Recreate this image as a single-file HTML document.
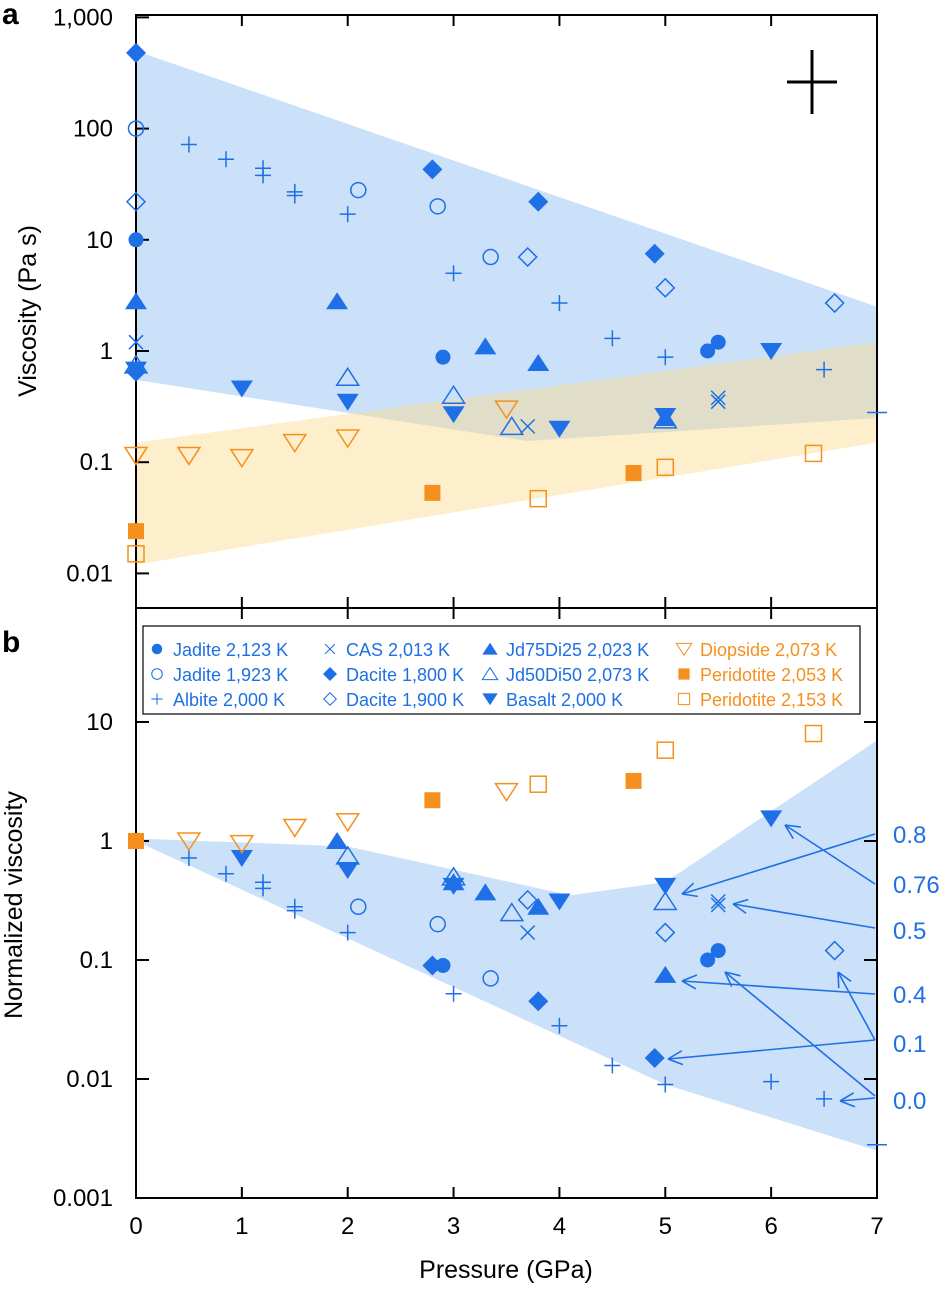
<!DOCTYPE html>
<html><head><meta charset="utf-8"><style>
body{margin:0;background:#fff}
svg text{font-family:"Liberation Sans",sans-serif}
</style></head><body>
<svg id="chart" width="946" height="1286" xmlns="http://www.w3.org/2000/svg">
<g id="bands"></g><g id="axes"></g><g id="marks"></g><g id="extra"></g>
</svg>
<script>
const xTicks=[0,1,2,3,4,5,6,7];
const aTicks=[1000,100,10,1,0.1,0.01];
const aTickLabels=["1,000","100","10","1","0.1","0.01"];
const bTicks=[10,1,0.1,0.01,0.001];
const bTickLabels=["10","1","0.1","0.01","0.001"];
// panel a series [pressure, viscosity]
const aJadite2123=[[0,10],[2.9,0.88],[5.4,1.0],[5.5,1.2]];
const aJadite1923=[[0,100],[2.1,28],[2.85,20],[3.35,7]];
const aAlbite=[[0,0.7],[0.5,72],[0.85,53],[1.2,38],[1.2,44],[1.5,25],[1.5,27],[2,17],[3,5],[4,2.7],[4.5,1.3],[5,0.88],[6.5,0.68]];
const aCAS=[[0,1.2],[3.7,0.21],[5.5,0.35],[5.5,0.38]];
const aDacite1800=[[0,480],[2.8,43],[3.8,22],[4.9,7.5],[0,0.65]];
const aDacite1900=[[0,22],[3.7,7],[5,3.7],[6.6,2.7]];
const aJd75=[[0,2.8],[1.9,2.8],[3.3,1.1],[3.8,0.78],[5,0.25]];
const aJd50=[[0,0.75],[2,0.58],[3,0.4],[3.55,0.21],[5,0.24]];
const aBasalt=[[0,0.68],[1,0.46],[2,0.35],[3,0.27],[4,0.2],[5,0.26],[6,1.0]];
const aDiopside=[[0,0.115],[0.5,0.115],[1,0.11],[1.5,0.15],[2,0.165],[3.5,0.3]];
const aPerid2053=[[0,0.024],[2.8,0.053],[4.7,0.08]];
const aPerid2153=[[0,0.015],[3.8,0.047],[5,0.09],[6.4,0.12]];
const aBlueBand=[[0,500],[7,2.5],[7,0.25],[3.7,0.155],[0,0.55]];
const aOrangeBand=[[0,0.15],[7,1.2],[7,0.15],[0,0.012]];
// panel b normalized
const bJadite2123=[[0,1],[2.9,0.09],[5.4,0.1],[5.5,0.12]];
const bJadite1923=[[2.1,0.28],[2.85,0.2],[3.35,0.07]];
const bAlbite=[[0,1],[0.5,0.72],[0.85,0.53],[1.2,0.4],[1.2,0.45],[1.5,0.26],[1.5,0.28],[2,0.17],[3,0.052],[4,0.028],[4.5,0.013],[5,0.009],[6,0.0095],[6.5,0.0068]];
const bCAS=[[3.7,0.17],[5.5,0.29],[5.5,0.31]];
const bDacite1800=[[2.8,0.09],[3.8,0.045],[4.9,0.015]];
const bDacite1900=[[3.7,0.32],[5,0.17],[6.6,0.12]];
const bJd75=[[1.9,1.0],[3.3,0.37],[3.8,0.28],[5,0.075],[3,0.45]];
const bJd50=[[2,0.75],[3,0.5],[3.55,0.25],[5,0.31]];
const bBasalt=[[1,0.72],[2,0.57],[3,0.42],[4,0.31],[5,0.42],[6,1.55]];
const bDiopside=[[0.5,1],[1,0.95],[1.5,1.3],[2,1.45],[3.5,2.6]];
const bPerid2053=[[0,1],[2.8,2.2],[4.7,3.2]];
const bPerid2153=[[3.8,3.0],[5,5.8],[6.4,8]];
const bBlueBand=[[0,1.05],[2,0.9],[4.1,0.35],[5,0.45],[7,7],[7,0.0025],[5,0.009],[0,1]];

const NS="http://www.w3.org/2000/svg";
const BLUE="#1f6fe6",OR="#f5901e";
const L=136,R=877;
const X=v=>L+v*(R-L)/7;
const YA=v=>351-111.2*Math.log10(v);
const YB=v=>841-119*Math.log10(v);
function el(t,a,p){const e=document.createElementNS(NS,t);for(const k in a)e.setAttribute(k,a[k]);document.getElementById(p).appendChild(e);return e;}
function poly(pts,Y,fill,op,name){const e=el('polygon',{points:pts.map(p=>X(p[0])+','+Y(p[1])).join(' '),fill:fill,opacity:op},'bands');

}
poly(aBlueBand,YA,'#a9cbf5',0.6,'panel-a-blue-band');
poly(aOrangeBand,YA,'#fbd98f',0.45,'panel-a-orange-band');
poly(bBlueBand,YB,'#a9cbf5',0.6,'panel-b-blue-band');

function marker(type,x,y,c,parent,name){
  const g=el('g',{},parent);
  
  
  const add=(t,a)=>{const n=document.createElementNS(NS,t);for(const k in a)n.setAttribute(k,a[k]);g.appendChild(n);};
  const st={stroke:c,'stroke-width':1.5};
  if(type=='fc')add('circle',{cx:x,cy:y,r:7.5,fill:c});
  if(type=='oc')add('circle',{cx:x,cy:y,r:7.5,fill:'none',...st});
  if(type=='plus'){add('line',{x1:x-8,x2:x+8,y1:y,y2:y,...st});add('line',{x1:x,x2:x,y1:y-8,y2:y+8,...st});}
  if(type=='x'){add('line',{x1:x-7,x2:x+7,y1:y-7,y2:y+7,...st});add('line',{x1:x+7,x2:x-7,y1:y-7,y2:y+7,...st});}
  const dia=`${x},${y-10} ${x+10},${y} ${x},${y+10} ${x-10},${y}`;
  if(type=='fd')add('polygon',{points:dia,fill:c});
  if(type=='od')add('polygon',{points:`${x},${y-9} ${x+9},${y} ${x},${y+9} ${x-9},${y}`,fill:'none',...st});
  const up=`${x},${y-9} ${x+11},${y+8} ${x-11},${y+8}`, dn=`${x},${y+9} ${x+11},${y-8} ${x-11},${y-8}`;
  if(type=='fu')add('polygon',{points:up,fill:c});
  if(type=='ou')add('polygon',{points:up,fill:'none',...st});
  if(type=='fdn')add('polygon',{points:dn,fill:c});
  if(type=='odn')add('polygon',{points:dn,fill:'none',...st});
  if(type=='fs')add('rect',{x:x-8,y:y-8,width:16,height:16,fill:c});
  if(type=='os')add('rect',{x:x-8,y:y-8,width:16,height:16,fill:'none',...st});
}
const seriesA=[[aJadite2123,'fc',BLUE,'jadite-2123'],[aJadite1923,'oc',BLUE,'jadite-1923'],[aAlbite,'plus',BLUE,'albite'],[aCAS,'x',BLUE,'cas'],[aDacite1800,'fd',BLUE,'dacite-1800'],[aDacite1900,'od',BLUE,'dacite-1900'],[aJd75,'fu',BLUE,'jd75di25'],[aJd50,'ou',BLUE,'jd50di50'],[aBasalt,'fdn',BLUE,'basalt'],[aDiopside,'odn',OR,'diopside'],[aPerid2053,'fs',OR,'peridotite-2053'],[aPerid2153,'os',OR,'peridotite-2153']];
const seriesB=[[bJadite2123,'fc',BLUE,'jadite-2123'],[bJadite1923,'oc',BLUE,'jadite-1923'],[bAlbite,'plus',BLUE,'albite'],[bCAS,'x',BLUE,'cas'],[bDacite1800,'fd',BLUE,'dacite-1800'],[bDacite1900,'od',BLUE,'dacite-1900'],[bJd75,'fu',BLUE,'jd75di25'],[bJd50,'ou',BLUE,'jd50di50'],[bBasalt,'fdn',BLUE,'basalt'],[bDiopside,'odn',OR,'diopside'],[bPerid2053,'fs',OR,'peridotite-2053'],[bPerid2153,'os',OR,'peridotite-2153']];
seriesA.forEach(s=>s[0].forEach(p=>marker(s[1],X(p[0]),YA(p[1]),s[2],'marks','a-point-'+s[3])));
seriesB.forEach(s=>s[0].forEach(p=>marker(s[1],X(p[0]),YB(p[1]),s[2],'marks','b-point-'+s[3])));

// axes
const ax=(t,a,name)=>{const e=el(t,a,'axes');return e;};
ax('rect',{x:L,y:15,width:R-L,height:1183,fill:'none',stroke:'#000','stroke-width':2},'plot-frame');
ax('line',{x1:L,x2:R,y1:608,y2:608,stroke:'#000','stroke-width':2},'panel-divider');
xTicks.forEach(t=>{
  [[15,26],[608,597],[608,619],[1198,1187]].forEach(p=>ax('line',{x1:X(t),x2:X(t),y1:p[0],y2:p[1],stroke:'#000','stroke-width':2},'x-tick'));
  const tx=ax('text',{x:X(t),y:1234,'font-size':24,'text-anchor':'middle'},'x-tick-label');tx.textContent=t;
});
aTicks.forEach((t,i)=>{ax('line',{x1:L,x2:L+13,y1:YA(t),y2:YA(t),stroke:'#000','stroke-width':2},'a-y-tick');
  const tx=ax('text',{x:113,y:YA(t)+8,'font-size':24,'text-anchor':'end'},'a-y-tick-label');tx.textContent=aTickLabels[i];});
bTicks.forEach((t,i)=>{ax('line',{x1:L,x2:L+13,y1:YB(t),y2:YB(t),stroke:'#000','stroke-width':2},'b-y-tick');
  ax('line',{x1:R,x2:R-13,y1:YB(t),y2:YB(t),stroke:'#000','stroke-width':2},'b-right-tick');
  const tx=ax('text',{x:113,y:YB(t)+8,'font-size':24,'text-anchor':'end'},'b-y-tick-label');tx.textContent=bTickLabels[i];});
ax('line',{x1:R-10,x2:R+10,y1:YA(0.28),y2:YA(0.28),stroke:BLUE,'stroke-width':1.5},'a-albite-edge');
ax('line',{x1:R-10,x2:R+10,y1:YB(0.0028),y2:YB(0.0028),stroke:BLUE,'stroke-width':1.5},'b-albite-edge');
let t;
t=ax('text',{x:0,y:0,'font-size':25,'text-anchor':'middle',transform:'translate(36,311) rotate(-90)'},'a-y-axis-title');t.textContent='Viscosity (Pa s)';
t=ax('text',{x:0,y:0,'font-size':25,'text-anchor':'middle',transform:'translate(22,905) rotate(-90)'},'b-y-axis-title');t.textContent='Normalized viscosity';
t=ax('text',{x:506,y:1278,'font-size':25,'text-anchor':'middle'},'x-axis-title');t.textContent='Pressure (GPa)';
t=ax('text',{x:2,y:24,'font-size':30,'font-weight':'bold'},'panel-a-label');t.textContent='a';
t=ax('text',{x:2,y:652,'font-size':30,'font-weight':'bold'},'panel-b-label');t.textContent='b';
ax('line',{x1:787,x2:837,y1:82,y2:82,stroke:'#000','stroke-width':3},'error-bar-h');
ax('line',{x1:812,x2:812,y1:50,y2:114,stroke:'#000','stroke-width':3},'error-bar-v');

// legend
ax('rect',{x:143,y:626,width:717,height:88,fill:'#fff',stroke:'#000','stroke-width':1.2},'legend-box');
const legend=[['fc',BLUE,'Jadite 2,123 K',0,0],['oc',BLUE,'Jadite 1,923 K',0,1],['plus',BLUE,'Albite 2,000 K',0,2],
['x',BLUE,'CAS 2,013 K',1,0],['fd',BLUE,'Dacite 1,800 K',1,1],['od',BLUE,'Dacite 1,900 K',1,2],
['fu',BLUE,'Jd75Di25 2,023 K',2,0],['ou',BLUE,'Jd50Di50 2,073 K',2,1],['fdn',BLUE,'Basalt 2,000 K',2,2],
['odn',OR,'Diopside 2,073 K',3,0],['fs',OR,'Peridotite 2,053 K',3,1],['os',OR,'Peridotite 2,153 K',3,2]];
const colX=[157,330,490,684];
legend.forEach(l=>{const x=colX[l[3]],y=649+l[4]*25;
  const g=document.createElementNS(NS,'g');g.setAttribute('transform',`translate(${x},${y}) scale(0.7) translate(${-x},${-y})`);document.getElementById('axes').appendChild(g);g.id='lg'+l[3]+l[4];
  marker(l[0],x,y,l[1],g.id,'legend-marker');
  const tx=ax('text',{x:x+16,y:y+7,'font-size':18,fill:l[1]},'legend-entry');tx.textContent=l[2];});

// right labels and arrows
const rLabels=[['0.8',834],['0.76',884],['0.5',930],['0.4',994],['0.1',1043],['0.0',1100]];
rLabels.forEach(r=>{const tx=el('text',{x:893,y:r[1]+9,'font-size':24,fill:BLUE},'extra');


tx.textContent=r[0];});
const arrows=[[875,834,682,894],[875,884,785,825],[875,928,733,904],[875,994,682,981],[875,1040,838,972],[875,1040,668,1059],[875,1096,725,972],[875,1098,840,1101]];
arrows.forEach(a=>{const g=el('g',{},'extra');
  
  
  const ln=document.createElementNS(NS,'line');[['x1',a[0]],['y1',a[1]],['x2',a[2]],['y2',a[3]],['stroke',BLUE],['stroke-width',1.6]].forEach(k=>ln.setAttribute(k[0],k[1]));g.appendChild(ln);
  const ang=Math.atan2(a[1]-a[3],a[0]-a[2]);
  [0.45,-0.45].forEach(d=>{const h=document.createElementNS(NS,'line');
    h.setAttribute('x1',a[2]);h.setAttribute('y1',a[3]);h.setAttribute('x2',a[2]+16*Math.cos(ang+d));h.setAttribute('y2',a[3]+16*Math.sin(ang+d));
    h.setAttribute('stroke',BLUE);h.setAttribute('stroke-width',1.6);g.appendChild(h);});
});
</script>
</body></html>
